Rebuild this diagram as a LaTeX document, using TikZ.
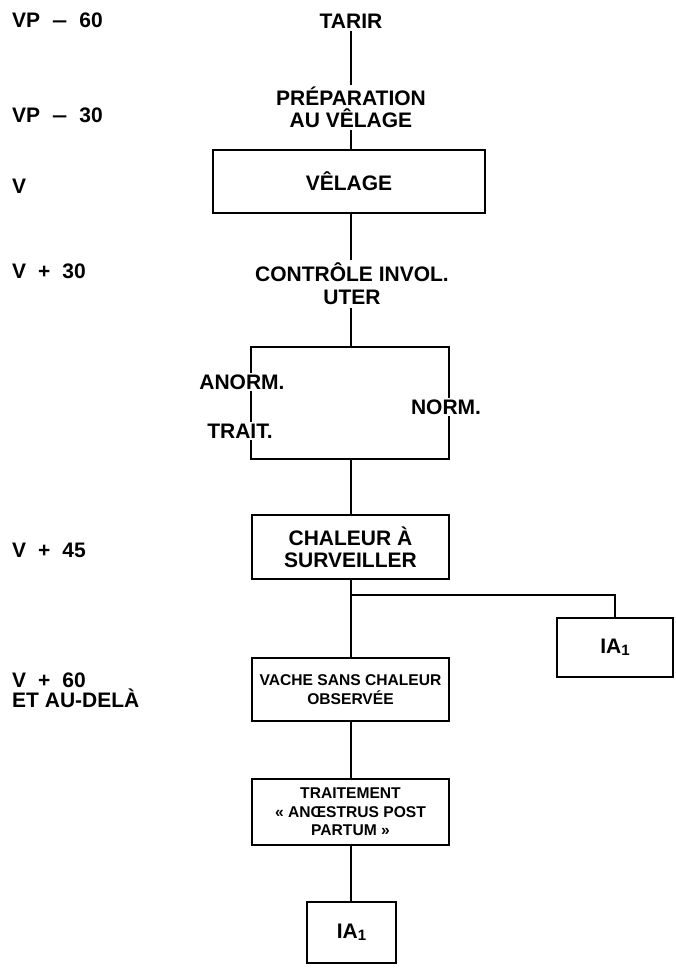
\documentclass[tikz,border=0pt]{standalone}
\usepackage{fontspec}
\setmainfont{Liberation Sans}
\begin{document}
\begin{tikzpicture}[x=1pt,y=-1pt,
  every node/.style={font=\bfseries\fontsize{21}{21.5}\selectfont},
  lbl/.style={anchor=west,inner sep=0pt,align=left},
  txt/.style={align=center,inner sep=2.5pt},
  stage/.style={draw,line width=1.8pt,align=center,inner sep=0pt},
  small/.style={font=\bfseries\fontsize{15.6}{18.5}\selectfont},
  iabox/.style={draw,line width=2.8pt,inner sep=0pt},
  side/.style={fill=white,inner sep=1.5pt},
  conn/.style={line width=1.2pt}]
\useasboundingbox (0,0) rectangle (675,971);
\newcommand{\IAone}{IA\raisebox{-2.5pt}{\fontsize{15}{15}\selectfont 1}}
\newcommand{\gp}{\hspace{12pt}}
\coordinate (main) at (351,0);
% left time labels
\node[lbl] (l1) at (12,20) {VP\gp\scalebox{1.3}[1]{--}\gp 60};
\node[lbl] (l2) at (12,115) {VP\gp\scalebox{1.3}[1]{--}\gp 30};
\node[lbl] (l3) at (12,186) {V};
\node[lbl] (l4) at (12,271) {V\gp+\gp 30};
\node[lbl] (l5) at (12,550) {V\gp+\gp 45};
\node[lbl,font=\bfseries\fontsize{21}{20}\selectfont] (l6) at (12,690) {V\gp+\gp 60\\ET AU-DEL\`A};
% central column
\node[txt] (tarir) at (351,21) {TARIR};
\node[txt] (prep) at (351,107.5) {PR\'EPARATION\\AU V\^ELAGE};
\node[stage,minimum width=272,minimum height=63] (velage) at (349,181.5) {V\^ELAGE};
\node[txt,font=\bfseries\fontsize{21}{23}\selectfont] (controle) at (352,284) {CONTR\^OLE INVOL.\\UTER};
\node[draw,line width=1.8pt,minimum width=198,minimum height=112,inner sep=0pt] (bigbox) at (350,403) {};
\node[side] (anorm) at (242,382) {ANORM.};
\node[side] (trait) at (240,431) {TRAIT.};
\node[side] (norm) at (446,407) {NORM.};
\node[stage,minimum width=197,minimum height=64,font=\bfseries\fontsize{21}{22}\selectfont] (chaleur) at (350.5,547) {CHALEUR \`A\\SURVEILLER};
\node[iabox,minimum width=116,minimum height=59] (ia1) at (615,647.5) {\IAone};
\node[stage,small,minimum width=197,minimum height=63] (vache) at (350.5,689.5) {VACHE SANS CHALEUR\\OBSERV\'EE};
\node[stage,small,minimum width=197,minimum height=66] (traitement) at (350.5,812) {TRAITEMENT\\\guillemotleft\ AN\OE STRUS POST\\PARTUM \guillemotright};
\node[iabox,minimum width=89,minimum height=61] (ia2) at (351.5,932.5) {\IAone};
% connectors
\draw[conn] (tarir.south -| main) -- (prep.north -| main);
\draw[conn] (prep.south -| main) -- (velage.north -| main);
\draw[conn] (velage.south -| main) -- (controle.north -| main);
\draw[conn] (controle.south -| main) -- (bigbox.north -| main);
\draw[conn] (bigbox.south -| main) -- (chaleur.north -| main);
\coordinate (branch) at (351,595);
\draw[conn] (chaleur.south -| main) -- (vache.north -| main);
\draw[conn] (branch) -| (ia1.north);
\draw[conn] (vache.south -| main) -- (traitement.north -| main);
\draw[conn] (traitement.south -| main) -- (ia2.north -| main);
\end{tikzpicture}
\end{document}
